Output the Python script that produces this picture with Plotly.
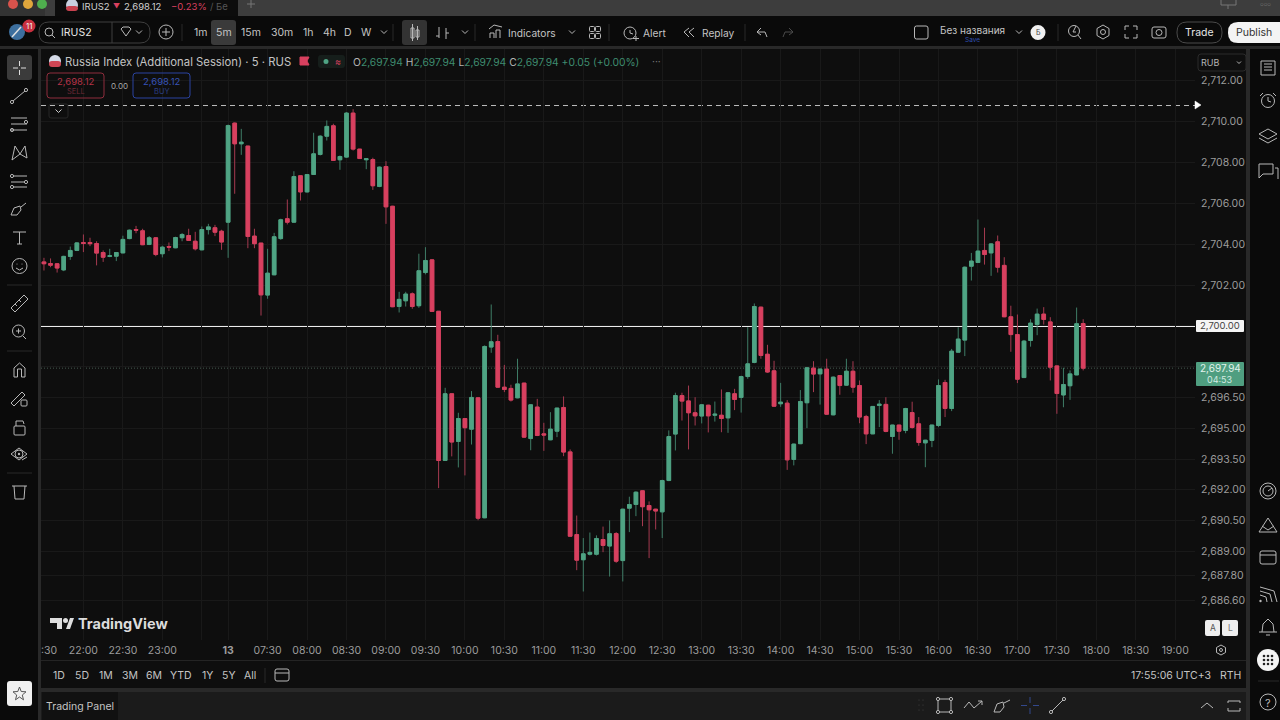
import plotly.graph_objects as go

# --- 5 minute bars (first bar is 21:30 of the day before) ---
opens = [
    2703.13, 2703.05, 2703.04, 2702.74, 2703.40, 2703.69, 2704.08, 2704.08, 2704.03, 2703.59,
    2703.40, 2703.41, 2703.57, 2704.27, 2704.71, 2704.65, 2703.98, 2704.31, 2703.53, 2703.88,
    2703.82, 2704.31, 2704.42, 2704.14, 2703.72, 2704.71, 2704.80, 2704.63,
    2705.07, 2709.91, 2708.90, 2708.79, 2704.39, 2704.05, 2701.51, 2702.50, 2704.27, 2705.24,
    2705.07, 2707.34, 2706.55, 2707.40, 2708.38, 2709.27, 2709.78, 2708.12, 2708.25, 2710.40,
    2708.64, 2708.12, 2708.13, 2706.82, 2707.79, 2705.85, 2700.95, 2701.23, 2701.57, 2700.99,
    2702.61, 2703.23, 2700.72, 2693.43, 2696.69, 2694.36, 2695.48, 2694.96, 2696.49, 2690.63,
    2698.97, 2699.24, 2697.01, 2696.95, 2696.49, 2697.21, 2694.50, 2696.04, 2694.73, 2694.44,
    2694.86, 2696.02, 2693.85, 2689.81, 2688.58, 2688.85, 2688.85, 2689.57, 2689.25, 2689.86,
    2688.54, 2691.10, 2691.28, 2691.95, 2691.23, 2691.05, 2690.92, 2692.45, 2694.72, 2696.60,
    2696.34, 2695.76, 2695.60, 2696.13, 2695.64, 2695.64, 2695.51, 2696.69, 2696.51, 2697.53,
    2698.22, 2700.92, 2698.62, 2697.81, 2696.20, 2696.23, 2693.48, 2694.25, 2696.25, 2697.94,
    2697.66, 2697.89, 2695.66, 2697.58, 2697.11, 2697.79, 2697.09, 2695.58, 2694.73, 2696.12,
    2696.17, 2694.60, 2695.16, 2694.90, 2695.77, 2695.22, 2694.29, 2694.41, 2695.14, 2697.24,
    2695.97, 2698.72, 2699.31, 2702.92, 2703.10, 2703.69, 2703.57, 2704.11, 2702.96, 2700.45,
    2699.58, 2697.48, 2699.29, 2700.07, 2700.58, 2700.20, 2698.05, 2696.63, 2697.08, 2697.61,
    2700.12,
]
highs = [
    2703.33, 2703.30, 2703.07, 2703.43, 2703.88, 2704.10, 2704.47, 2704.31, 2704.14, 2703.69,
    2703.77, 2703.61, 2704.41, 2704.71, 2704.89, 2704.75, 2704.39, 2704.32, 2703.92, 2704.08,
    2704.36, 2704.54, 2704.75, 2704.60, 2704.86, 2704.99, 2704.94, 2704.70,
    2709.84, 2709.94, 2709.63, 2708.79, 2704.75, 2704.05, 2703.77, 2704.55, 2705.24, 2706.18,
    2707.56, 2707.35, 2707.40, 2709.44, 2709.32, 2710.04, 2709.88, 2708.33, 2710.45, 2710.59,
    2708.65, 2708.17, 2708.22, 2707.79, 2708.05, 2705.87, 2701.67, 2701.67, 2701.64, 2703.53,
    2703.85, 2703.25, 2700.72, 2696.98, 2696.69, 2695.76, 2695.50, 2696.82, 2696.52, 2699.05,
    2701.05, 2699.57, 2698.10, 2697.13, 2698.40, 2697.22, 2696.18, 2696.44, 2695.27, 2695.79,
    2696.00, 2696.56, 2693.97, 2690.74, 2689.64, 2689.91, 2689.77, 2690.20, 2690.50, 2689.93,
    2691.07, 2691.66, 2691.92, 2691.97, 2691.43, 2691.07, 2692.49, 2694.90, 2696.74, 2696.74,
    2697.09, 2696.52, 2696.18, 2696.15, 2696.31, 2696.90, 2696.77, 2696.93, 2697.57, 2699.94,
    2701.10, 2700.94, 2699.08, 2698.30, 2697.22, 2696.38, 2694.25, 2696.87, 2697.99, 2698.28,
    2697.94, 2698.40, 2697.53, 2697.60, 2698.40, 2698.28, 2697.34, 2695.66, 2696.08, 2696.38,
    2696.52, 2695.17, 2695.17, 2696.00, 2696.30, 2695.55, 2694.44, 2695.17, 2697.39, 2697.37,
    2698.88, 2699.94, 2702.91, 2703.57, 2705.20, 2704.80, 2704.05, 2704.42, 2703.36, 2700.99,
    2700.56, 2699.32, 2700.33, 2700.85, 2700.92, 2700.43, 2698.07, 2697.96, 2697.83, 2700.90,
    2700.33,
]
lows = [
    2702.71, 2702.87, 2702.61, 2702.68, 2703.23, 2703.66, 2703.61, 2703.90, 2702.96, 2703.13,
    2703.36, 2703.17, 2703.56, 2704.24, 2704.53, 2703.95, 2703.95, 2703.41, 2703.35, 2703.66,
    2703.80, 2704.14, 2704.16, 2703.69, 2703.70, 2704.47, 2704.39, 2703.72,
    2703.33, 2706.46, 2708.36, 2703.80, 2703.80, 2700.51, 2701.33, 2702.48, 2704.21, 2704.96,
    2705.06, 2706.13, 2706.52, 2707.40, 2708.33, 2709.06, 2708.09, 2707.63, 2708.21, 2708.57,
    2708.17, 2707.66, 2706.65, 2706.78, 2704.99, 2700.92, 2700.66, 2700.95, 2700.84, 2700.89,
    2702.52, 2700.69, 2692.08, 2693.41, 2693.63, 2693.09, 2692.70, 2694.21, 2690.51, 2690.61,
    2698.69, 2697.00, 2696.77, 2696.31, 2696.47, 2694.55, 2693.93, 2694.62, 2693.90, 2694.42,
    2694.57, 2693.64, 2689.72, 2688.07, 2687.03, 2688.79, 2688.79, 2688.95, 2687.76, 2688.43,
    2687.52, 2689.93, 2690.71, 2690.22, 2688.66, 2690.06, 2689.64, 2692.42, 2693.92, 2695.38,
    2693.97, 2695.14, 2695.24, 2694.80, 2695.33, 2694.81, 2694.78, 2695.89, 2695.77, 2697.42,
    2698.18, 2698.40, 2697.71, 2696.07, 2696.05, 2692.97, 2693.19, 2694.23, 2695.01, 2696.77,
    2696.16, 2695.66, 2695.64, 2696.64, 2697.09, 2696.74, 2695.25, 2694.23, 2694.72, 2695.06,
    2694.81, 2693.76, 2694.44, 2694.76, 2694.99, 2694.15, 2693.10, 2694.08, 2695.06, 2695.55,
    2695.84, 2698.71, 2698.53, 2702.22, 2703.09, 2703.00, 2702.45, 2702.61, 2700.43, 2698.74,
    2697.21, 2697.47, 2698.99, 2699.55, 2700.07, 2697.34, 2695.71, 2696.03, 2696.39, 2697.60,
    2697.83,
]
closes = [
    2703.04, 2702.97, 2702.83, 2703.40, 2703.69, 2704.06, 2704.03, 2704.02, 2703.56, 2703.36,
    2703.43, 2703.59, 2704.23, 2704.68, 2704.68, 2703.97, 2704.31, 2703.49, 2703.85, 2703.85,
    2704.32, 2704.47, 2704.18, 2703.77, 2704.71, 2704.84, 2704.58, 2704.10,
    2709.79, 2708.90, 2708.98, 2704.37, 2704.02, 2701.52, 2702.58, 2704.36, 2705.19, 2705.07,
    2707.30, 2706.55, 2707.40, 2708.41, 2709.27, 2709.75, 2708.09, 2708.28, 2710.40, 2708.64,
    2708.18, 2708.17, 2706.85, 2707.76, 2705.82, 2700.94, 2701.30, 2701.56, 2700.95, 2702.70,
    2703.20, 2700.71, 2693.43, 2696.69, 2694.33, 2695.48, 2695.03, 2696.51, 2690.61, 2699.00,
    2699.23, 2697.01, 2696.90, 2696.38, 2697.17, 2694.57, 2696.15, 2694.65, 2694.67, 2694.96,
    2695.99, 2693.84, 2689.73, 2688.56, 2688.87, 2688.94, 2689.62, 2689.28, 2689.85, 2688.51,
    2691.05, 2691.28, 2691.88, 2691.17, 2691.02, 2690.96, 2692.45, 2694.60, 2696.60, 2696.33,
    2695.76, 2695.61, 2696.15, 2695.61, 2695.69, 2695.48, 2696.74, 2696.41, 2697.53, 2698.15,
    2700.95, 2698.56, 2697.75, 2696.08, 2696.28, 2693.46, 2694.23, 2696.31, 2697.96, 2697.65,
    2697.89, 2695.69, 2697.50, 2697.09, 2697.79, 2697.01, 2695.55, 2694.73, 2696.07, 2696.18,
    2694.85, 2695.16, 2694.86, 2695.97, 2695.04, 2694.31, 2694.42, 2695.16, 2697.09, 2695.97,
    2698.77, 2699.36, 2702.87, 2703.17, 2703.66, 2703.49, 2704.01, 2702.87, 2700.45, 2699.58,
    2697.40, 2699.26, 2700.14, 2700.58, 2700.32, 2697.99, 2696.70, 2697.14, 2697.66, 2700.11,
    2697.94,
]

# time axis: bar index -> label (the 23:30 tick has a grid line but no visible label)
time_ticks = [6, 12, 18, 24, 28, 34, 40, 46, 52, 58, 64, 70, 76, 82, 88, 94, 100, 106, 112, 118,
              124, 130, 136, 142, 148, 154, 160, 166, 172]
time_labels = ["22:00", "22:30", "23:00", "", "<b>13</b>", "07:30", "08:00", "08:30", "09:00", "09:30",
               "10:00", "10:30", "11:00", "11:30", "12:00", "12:30", "13:00", "13:30", "14:00", "14:30",
               "15:00", "15:30", "16:00", "16:30", "17:00", "17:30", "18:00", "18:30", "19:00"]

price_ticks = [2712, 2710, 2708, 2706, 2704, 2702, 2700, 2698, 2696.5, 2695, 2693.5, 2692, 2690.5,
               2689, 2687.8, 2686.6]
price_labels = ["2,712.00", "2,710.00", "2,708.00", "2,706.00", "2,704.00", "2,702.00", "", "",
                "2,696.50", "2,695.00", "2,693.50", "2,692.00", "2,690.50", "2,689.00", "2,687.80",
                "2,686.60"]

alert_level = 2700.0
position_level = 2710.77
last_price = 2697.94

interval_names = ["1m", "5m", "15m", "30m", "1h", "4h", "D", "W"]
range_names = ["1D", "5D", "1M", "3M", "6M", "YTD", "1Y", "5Y", "All"]

BG = "#0e0e0e"
PANEL = "#0a0a0a"
SEP = "#292929"
ICON = "#b8b8b8"
TXT = "#c4c4c4"
GREEN = "#4fa484"
RED = "#d8405f"
FONT = "Inter"

shapes = []
notes = []


def fx(x):
    return x / 1280


def fy(y):
    return 1 - y / 720


def box(x0, y0, x1, y1, fill=None, line=None, w=1, r=0):
    if r:
        p = (f"M{fx(x0 + r)} {fy(y0)} L{fx(x1 - r)} {fy(y0)} Q{fx(x1)} {fy(y0)} {fx(x1)} {fy(y0 + r)} "
             f"L{fx(x1)} {fy(y1 - r)} Q{fx(x1)} {fy(y1)} {fx(x1 - r)} {fy(y1)} "
             f"L{fx(x0 + r)} {fy(y1)} Q{fx(x0)} {fy(y1)} {fx(x0)} {fy(y1 - r)} "
             f"L{fx(x0)} {fy(y0 + r)} Q{fx(x0)} {fy(y0)} {fx(x0 + r)} {fy(y0)} Z")
        shapes.append(dict(type="path", path=p, xref="paper", yref="paper", fillcolor=fill or "rgba(0,0,0,0)",
                           line=dict(color=line or "rgba(0,0,0,0)", width=w if line else 0)))
    else:
        shapes.append(dict(type="rect", x0=fx(x0), x1=fx(x1), y0=fy(y0), y1=fy(y1), xref="paper", yref="paper",
                           fillcolor=fill or "rgba(0,0,0,0)",
                           line=dict(color=line or "rgba(0,0,0,0)", width=w if line else 0)))


def circ(cx, cy, r, fill=None, line=None, w=1):
    shapes.append(dict(type="circle", x0=fx(cx - r), x1=fx(cx + r), y0=fy(cy - r), y1=fy(cy + r),
                       xref="paper", yref="paper", fillcolor=fill or "rgba(0,0,0,0)",
                       line=dict(color=line or "rgba(0,0,0,0)", width=w if line else 0)))


def ln(pts, color=ICON, w=1, fill=None, close=False):
    p = "M" + " L".join(f"{fx(x)} {fy(y)}" for x, y in pts) + (" Z" if close else "")
    shapes.append(dict(type="path", path=p, xref="paper", yref="paper", fillcolor=fill or "rgba(0,0,0,0)",
                       line=dict(color=color, width=w)))


def text(x, y, s, size=10.5, color=TXT, anchor="center"):
    notes.append(dict(x=fx(x), y=fy(y), xref="paper", yref="paper", text=s, showarrow=False, xanchor=anchor,
                      yanchor="middle", font=dict(family=FONT, size=size, color=color), borderpad=0, borderwidth=0))


def chevron(x, y, color=ICON, s=3):
    ln([(x - s, y - s / 2), (x, y + s / 2), (x + s, y - s / 2)], color)


# --- panels ---
box(0, 0, 1280, 16, fill="#3d3d3d")
box(0, 0, 45, 16, fill="#333333")
box(55, 0, 238, 16, fill="#0c0c0c")
box(0, 16, 1280, 46, fill=PANEL)
box(0, 46, 1280, 49, fill=SEP)
box(0, 49, 38, 720, fill=PANEL)
box(38, 49, 41, 720, fill=SEP)
box(1246, 49, 1250, 720, fill=SEP)
box(1250, 49, 1280, 720, fill=PANEL)
box(41, 660, 1246, 661, fill="#242424")
box(41, 661, 1246, 688, fill=BG)
box(41, 688, 1246, 692, fill=SEP)
box(41, 692, 1246, 720, fill="#1b1b1b")
box(42, 692, 118, 720, fill="#111111")

# --- window strip ---
circ(13, 4, 5, fill="#d9534c")
circ(28, 4, 5, fill="#e0a63c")
circ(42, 4, 5, fill="#4fae4e")
circ(72, 5, 6, fill="#c8d0e0")
box(66, 6, 78, 11, fill="#c8424f", r=3)
text(82, 6.5, "IRUS2", 9.5, "#d0d0d0", "left")
text(116, 6.5, "▼", 7, RED)
text(124, 6.5, "2,698.12", 9.5, "#d0d0d0", "left")
text(171, 6.5, "−0.23%", 9.5, RED, "left")
text(210, 6.5, "/ Бе", 9.5, "#555555", "left")
ln([(251, 0), (251, 8)], "#777777")
ln([(247, 4), (255, 4)], "#777777")
ln([(1221, 0), (1221, 5), (1236, 5), (1236, 0)], "#777777")
ln([(1228, 5), (1228, 9)], "#777777")
text(1265, 5, "○○○", 4, "#777777")

# --- top toolbar ---
circ(17, 32, 8, fill="#3d6f9e")
ln([(12, 37), (21, 27)], "#e0e0e0", 1.5)
circ(29, 26, 6.5, fill="#c9303f")
text(29, 26, "11", 8, "#f0f0f0")
box(39, 22, 150, 43, line="#3f3f3f", r=10)
ln([(112, 22), (112, 43)], "#3f3f3f")
circ(49, 32, 4, line=ICON)
ln([(52, 35), (55, 38)])
text(61, 33, "IRUS2", 10.5, "#e6e6e6", "left")
ln([(121, 29), (123, 27), (129, 27), (131, 29), (126, 36)], ICON, 1, close=True)
chevron(139, 32)
circ(166, 32, 7, line=ICON)
ln([(162, 32), (170, 32)])
ln([(166, 28), (166, 36)])
ln([(182, 24), (182, 41)], SEP)
box(211, 20, 236, 45, fill="#3a3a3a", r=3)
for name, cx in zip(interval_names, [200, 224, 251, 282, 308, 329, 348, 366]):
    text(cx, 33, name, 10.5, TXT)
chevron(384, 32)
ln([(393, 24), (393, 41)], SEP)
box(402, 20, 427, 45, fill="#333333", r=3)
box(411, 28, 414, 38, line=ICON)
ln([(412.5, 24), (412.5, 41)])
box(416, 30, 419, 37, line=ICON)
ln([(417.5, 26), (417.5, 40)])
ln([(439, 27), (439, 38)])
ln([(436, 36), (439, 36)])
ln([(446, 28), (446, 39)])
ln([(446, 33), (449, 33)])
chevron(465, 32)
ln([(475, 24), (475, 41)], SEP)
ln([(490, 38), (490, 33), (494, 33), (494, 38)])
ln([(496, 38), (496, 30), (500, 30), (500, 38)])
ln([(489, 29), (494, 25), (502, 27)])
text(508, 33, "Indicators", 10.2, TXT, "left")
chevron(572, 32)
for qx, qy in [(592, 29), (598, 29), (592, 36), (598, 36)]:
    box(qx - 2.5, qy - 2.5, qx + 2.5, qy + 2.5, line=ICON, r=1)
ln([(609, 24), (609, 41)], SEP)
circ(630, 33, 6, line=ICON)
ln([(630, 30), (630, 33), (633, 34)])
ln([(636, 36), (636, 41)])
ln([(633, 38.5), (639, 38.5)])
text(643, 33, "Alert", 10.2, TXT, "left")
ln([(689, 28), (684, 32), (689, 37)])
ln([(694, 28), (689, 32), (694, 37)])
text(702, 33, "Replay", 10.2, TXT, "left")
ln([(745, 24), (745, 41)], SEP)
ln([(761, 28), (757, 32), (761, 35)])
ln([(757, 32), (765, 32), (767, 37)])
ln([(789, 28), (793, 32), (789, 35)], "#4a4a4a")
ln([(793, 32), (785, 32), (783, 37)], "#4a4a4a")
box(914.5, 26, 928, 39, line=ICON, r=2)
text(972, 30, "Без названия", 10, TXT)
text(972, 39.5, "Save", 6.5, "#2f4fb0")
chevron(1019, 32)
circ(1038, 32.5, 7.5, fill="#f0f0f0")
text(1038, 33, "Б", 7, "#444444")
ln([(1058, 24), (1058, 41)], SEP)
circ(1074, 31, 5.5, line=ICON)
ln([(1078, 35), (1081, 39)])
ln([(1076, 26), (1073, 32), (1076, 32)])
ln([(1103, 25), (1109, 28.5), (1109, 35.5), (1103, 39), (1097, 35.5), (1097, 28.5)], ICON, close=True)
circ(1103, 32, 2.5, line=ICON)
ln([(1125, 30), (1125, 26), (1129, 26)])
ln([(1133, 26), (1137, 26), (1137, 30)])
ln([(1137, 34), (1137, 38), (1133, 38)])
ln([(1129, 38), (1125, 38), (1125, 34)])
box(1152, 27, 1166, 38, line=ICON, r=2)
circ(1159, 32.5, 3, line=ICON)
box(1177, 22, 1222, 43, line="#4a4a4a", r=10)
text(1199.5, 33, "Trade", 10.5, "#e6e6e6")
box(1228, 22, 1290, 43, fill="#f4f4f4", r=10)
text(1254, 33, "Publish", 10.5, "#333333")

# --- legend row and order buttons ---
circ(55, 61, 6, fill="#d5dbe8")
box(49, 61, 61, 67, fill="#cf4655", r=3)
text(65, 61.5, "Russia Index (Additional Session) · 5 · RUS", 11.3, TXT, "left")
ln([(300, 57), (309, 57), (307, 61), (309, 65), (300, 65)], RED, 1, fill=RED, close=True)
box(318, 55, 345, 68, fill="#161e1b", r=3)
circ(326, 61.5, 2.5, fill=GREEN)
text(338, 61, "≈", 9, RED)
ohlc_val = "<span style='color:#3f8d70'>2,697.94</span>"
text(353, 61.5, f"O{ohlc_val} H{ohlc_val} L{ohlc_val} C{ohlc_val} "
                "<span style='color:#3f8d70'>+0.05 (+0.00%)</span>", 10.3, "#b4b4b4", "left")
text(656, 61, "···", 10, "#777777")
box(47, 73, 104, 98, line="#8e2d3c", r=3)
text(75.5, 81, "2,698.12", 9.5, "#b53348")
text(75.5, 91, "SELL", 7.5, "#6f2a36")
text(119, 86, "0.00", 8, "#a8a8a8")
box(133, 73, 190, 98, line="#2a43a0", r=3)
text(161.5, 81, "2,698.12", 9.5, "#3753b8")
text(161.5, 91, "BUY", 7.5, "#2a3d80")
box(49, 104, 68, 118, line="#262626", r=2)
chevron(58.5, 111, "#cccccc", 3)
box(1198, 54, 1246, 71, line="#2a2a2a", r=3)
text(1201, 62.5, "RUB", 9, "#b4b4b4", "left")
chevron(1239, 62.5, "#b4b4b4", 2)

# --- price tags ---
box(1196, 320, 1244, 332, fill="#f4f4f4", r=1)
text(1220, 326, "2,700.00", 9.5, "#444444")
box(1196, 362, 1244, 386, fill="#4f9e80", r=1)
text(1220, 368, "2,697.94", 10, "#e2f2ec")
text(1220, 379, "04:53", 9, "#d4ebe2")
ln([(1195, 101), (1201, 105), (1195, 109)], "#ffffff", 0.5, fill="#ffffff", close=True)

# --- left toolbar ---
box(7, 55, 32, 80, fill="#3b3b3b", r=3)
ln([(19.5, 61), (19.5, 66)], "#dddddd")
ln([(19.5, 70), (19.5, 75)], "#dddddd")
ln([(13, 68), (18, 68)], "#dddddd")
ln([(21, 68), (26, 68)], "#dddddd")
circ(12, 102, 1.6, line=ICON)
circ(26, 90, 1.6, line=ICON)
ln([(13, 101), (25, 91)])
for ly in [118, 124, 130]:
    ln([(11, ly), (27, ly)])
circ(26, 122, 1.6, line=ICON)
circ(12, 130, 1.6, line=ICON)
ln([(12, 160), (15, 146), (20, 154), (25, 146), (27, 158), (20, 154), (12, 160)])
for ly, lx in [(176, 12), (182, 26), (187, 12)]:
    ln([(11, ly), (27, ly)])
    circ(lx, ly, 1.6, line=ICON, fill=PANEL)
ln([(11, 215), (14, 208), (20, 206), (21, 210), (17, 215)], ICON, close=True)
ln([(21, 207), (26, 203)])
ln([(13, 232), (26, 232)])
ln([(19.5, 232), (19.5, 244)])
ln([(17, 244), (22, 244)])
circ(19.5, 266, 7.5, line=ICON)
circ(17, 264, 0.5, fill=ICON)
circ(22, 264, 0.5, fill=ICON)
ln([(16, 268), (19.5, 270), (23, 268)])
for sy in [285, 351, 473]:
    ln([(7, sy), (32, sy)], SEP)
ln([(11, 308), (24, 295), (28, 299), (15, 312)], ICON, close=True)
ln([(15, 304), (17, 306)])
ln([(19, 300), (21, 302)])
circ(18.5, 331, 6, line=ICON)
ln([(16, 331), (21, 331)])
ln([(18.5, 328.5), (18.5, 333.5)])
ln([(23, 336), (26, 339)])
ln([(14, 377), (14, 368), (19.5, 363), (25, 368), (25, 377), (21.5, 377), (21.5, 369), (17.5, 369), (17.5, 377)],
   ICON, close=True)
ln([(11, 403), (22, 392), (25, 395), (14, 406)], ICON, close=True)
box(21, 400, 27, 406, line=ICON, r=1)
box(14, 426, 25, 435, line=ICON, r=1)
ln([(16, 426), (16, 421), (23, 421), (24, 424)])
circ(19, 454, 4, line=ICON)
circ(19, 454, 1.2, fill=ICON)
ln([(11, 454), (19, 448), (27, 454), (19, 460)], ICON, close=True)
ln([(22, 460), (27, 457)])
ln([(12, 486), (27, 486)])
ln([(14, 486), (15, 499), (24, 499), (25, 486)])
box(7, 681, 32, 706, fill="#f0f0f0", r=3)
ln([(19.5, 687), (21.2, 691.5), (26, 691.8), (22.3, 695), (23.5, 699.8), (19.5, 697), (15.5, 699.8), (16.7, 695),
    (13, 691.8), (17.8, 691.5)], "#555555", close=True)

# --- right toolbar ---
box(1261, 61, 1275, 75, line=ICON)
for ly in [64, 67, 70]:
    ln([(1264, ly), (1272, ly)])
circ(1268, 101, 6.5, line=ICON)
ln([(1268, 97), (1268, 101), (1271, 102)])
ln([(1260, 96), (1263, 93)])
ln([(1273, 93), (1276, 96)])
ln([(1268, 129), (1277, 134), (1268, 139), (1259, 134)], ICON, close=True)
ln([(1259, 138), (1268, 143), (1277, 138)])
ln([(1259, 164), (1273, 164), (1273, 174), (1263, 174), (1259, 178)], ICON, close=True)
ln([(1275, 168), (1278, 168), (1278, 179)])
circ(1268, 491, 8, line=ICON)
circ(1268, 491, 5, line=ICON)
ln([(1268, 491), (1272, 488)])
ln([(1268, 518), (1277, 532), (1259, 532)], ICON, close=True)
ln([(1262, 526), (1268, 530), (1274, 526)])
box(1260, 551, 1276, 564, line=ICON, r=2)
ln([(1260, 555), (1276, 555)])
circ(1260.5, 601, 1.2, fill=ICON)
ln([(1260, 595), (1266, 597), (1267, 602)])
ln([(1260, 591), (1270, 594), (1272, 602)])
ln([(1260, 587), (1274, 591), (1277, 602)])
ln([(1262, 632), (1263, 624), (1268, 619), (1273, 624), (1274, 632)])
ln([(1259, 632), (1277, 632)])
ln([(1266, 635), (1270, 635)])
circ(1268, 660, 11, fill="#f4f4f4")
for gy in [656, 660, 664]:
    for gx in [1264, 1268, 1272]:
        circ(gx, gy, 1.3, fill="#222222")
ln([(1258, 681), (1279, 681)], SEP)
circ(1268, 702, 8, line=ICON)
text(1268, 702.5, "?", 11, ICON)

# --- chart footer ---
text(49, 650, ":30", 10.5, "#9c9c9c")
for name, cx in zip(range_names, [59, 82, 106, 130, 154, 181, 207, 229, 250]):
    text(cx, 675.5, name, 10.5, TXT)
ln([(265, 668), (265, 683)], SEP)
box(275, 669, 289, 681, line=ICON, r=2)
ln([(275, 673), (289, 673)])
text(1211, 675.5, "17:55:06 UTC+3", 10.5, TXT, "right")
text(1230, 675.5, "RTH", 10.5, TXT)
text(80, 706, "Trading Panel", 10.5, TXT)
box(1205, 620, 1220, 636, fill="#eeeeee", r=2)
text(1212.5, 628, "A", 8.5, "#555555")
box(1222, 620, 1238, 636, fill="#eeeeee", r=2)
text(1230, 628, "L", 8.5, "#777777")
ln([(1221, 645), (1225.5, 647.5), (1225.5, 652.5), (1221, 655), (1216.5, 652.5), (1216.5, 647.5)], ICON, close=True)
circ(1221, 650, 1.5, line=ICON)

# bottom drawing bar
for dy in [700, 705, 710]:
    circ(919, dy, 0.6, fill="#444444")
    circ(923, dy, 0.6, fill="#444444")
box(938, 699, 951, 712, line=ICON)
for cx_, cy_ in [(938, 699), (951, 699), (938, 712), (951, 712)]:
    circ(cx_, cy_, 1.6, line=ICON, fill="#1b1b1b")
ln([(964, 708), (969, 702), (974, 708), (982, 701)])
ln([(978, 701), (982, 701), (982, 705)])
ln([(994, 712), (997, 704), (1003, 702), (1004, 707), (1000, 712)], ICON, close=True)
ln([(1004, 703), (1010, 700)])
ln([(1030, 697), (1030, 703)], "#33488c")
ln([(1030, 708), (1030, 714)], "#33488c")
ln([(1021, 705.5), (1027, 705.5)], "#33488c")
ln([(1033, 705.5), (1039, 705.5)], "#33488c")
circ(1051, 712, 1.6, line=ICON)
circ(1064, 699, 1.6, line=ICON)
ln([(1052, 711), (1063, 700)])
ln([(1201, 708), (1207, 703), (1213, 708)], ICON)
ln([(1228, 703), (1228, 701), (1240, 701), (1240, 703)])
ln([(1228, 708), (1228, 711), (1240, 711), (1240, 708)])

# TradingView logo
ln([(50, 618), (62, 618), (62, 629), (57, 629), (57, 623), (50, 623)], "#dedede", 0, fill="#dedede", close=True)
circ(65.5, 620.5, 2.5, fill="#dedede")
ln([(66, 629), (70, 618), (74, 618), (70, 629)], "#dedede", 0, fill="#dedede", close=True)
text(78, 623.5, "<b>TradingView</b>", 14.5, "#dcdcdc", "left")

# levels sit under the candles, over the grid
level_lines = [
    dict(y=alert_level, color="#ececec", width=2, dash="solid"),
    dict(y=position_level, color="#bdbdbd", width=1, dash="5px,4px"),
    dict(y=last_price, color="#44594f", width=1, dash="1px,2px"),
]
for lv in level_lines:
    shapes.append(dict(type="line", xref="paper", x0=fx(41), x1=fx(1195), yref="y", y0=lv["y"], y1=lv["y"],
                       layer="between", line=dict(color=lv["color"], width=lv["width"], dash=lv["dash"])))

bar_index = list(range(len(opens)))
body_tops = [max(o, c) for o, c in zip(opens, closes)]
body_bottoms = [min(o, c) for o, c in zip(opens, closes)]

fig = go.Figure()
# wicks are dimmer than the bodies in the reference, so draw them as their own layer
fig.add_trace(go.Candlestick(
    x=bar_index,
    open=opens,
    high=highs,
    low=lows,
    close=closes,
    increasing=dict(fillcolor=GREEN, line=dict(color="#3f7d67", width=1)),
    decreasing=dict(fillcolor=RED, line=dict(color="#a53a50", width=1)),
    whiskerwidth=0,
    hoverinfo="skip",
    showlegend=False,
))
fig.add_trace(go.Candlestick(
    x=bar_index,
    open=opens,
    high=body_tops,
    low=body_bottoms,
    close=closes,
    increasing=dict(fillcolor=GREEN, line=dict(color=GREEN, width=0.8)),
    decreasing=dict(fillcolor=RED, line=dict(color=RED, width=0.8)),
    whiskerwidth=0,
    hoverinfo="skip",
    showlegend=False,
))

fig.update_layout(
    width=1280,
    height=720,
    margin=dict(l=0, r=0, t=0, b=0),
    paper_bgcolor=BG,
    plot_bgcolor=BG,
    boxgap=0.2,
    showlegend=False,
    font=dict(family=FONT),
    shapes=shapes,
    annotations=notes,
    xaxis=dict(
        domain=[41 / 1280, 1195 / 1280],
        range=[-0.45, 175.0],
        rangeslider=dict(visible=False),
        tickmode="array",
        tickvals=time_ticks,
        ticktext=time_labels,
        ticks="",
        tickangle=0,
        ticklabelstandoff=2,
        tickfont=dict(family=FONT, size=10.5, color="#9c9c9c"),
        showgrid=True,
        gridcolor="#191919",
        gridwidth=1,
        zeroline=False,
        showline=False,
        fixedrange=True,
    ),
    yaxis=dict(
        domain=[80 / 720, 672 / 720],
        range=[2684.66, 2713.58],
        side="right",
        tickmode="array",
        tickvals=price_ticks,
        ticktext=price_labels,
        ticks="",
        ticklabelstandoff=5,
        tickfont=dict(family=FONT, size=10.5, color="#9c9c9c"),
        showgrid=True,
        gridcolor="#191919",
        gridwidth=1,
        zeroline=False,
        showline=False,
        fixedrange=True,
    ),
)

fig.write_html(
    "out.html",
    config={"displayModeBar": False, "staticPlot": True},
    post_script="document.body.style.margin='0';document.body.style.background='#000';document.body.style.overflow='hidden';",
)
